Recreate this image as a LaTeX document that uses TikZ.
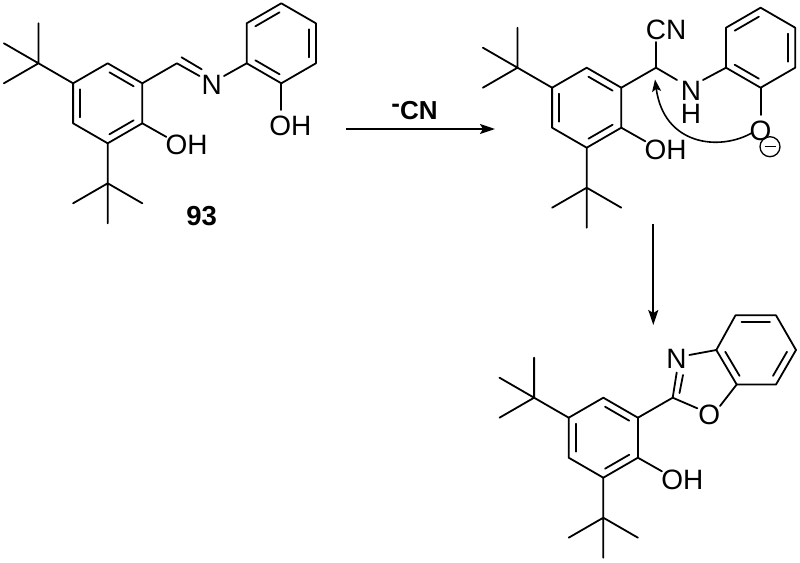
\documentclass[tikz,border=0pt]{standalone}
\usepackage{fontspec}
\setmainfont{Liberation Sans}
\usetikzlibrary{arrows.meta,calc}
\tikzset{
  bond/.style={line width=1.8pt,line cap=round,line join=round,black},
  atom/.style={font=\fontsize{28}{28}\selectfont,inner sep=0pt,text=black},
  lab/.style={font=\fontsize{26}{26}\selectfont\bfseries,inner sep=0pt,text=black},
  rxn/.style={line width=1.8pt,black,-{Stealth[length=15pt,width=10pt,inset=3pt]}},
  curly/.style={line width=1.6pt,black,-{Stealth[length=12pt,width=9pt,inset=2.5pt]}},
  pics/arene/.style={code={
    \coordinate (top) at (0,0);
    \coordinate (c3) at (34.6,20);
    \coordinate (c4) at (34.6,60);
    \coordinate (c5) at (0,80);
    \coordinate (c6) at (-34.6,60);
    \coordinate (c1) at (-34.6,20);
    \coordinate (ctr) at (0,40);
    \coordinate (ta) at (-69.2,0);
    \coordinate (ta1) at (-69.2,-40);
    \coordinate (ta2) at (-103.8,-20);
    \coordinate (ta3) at (-103.8,20);
    \coordinate (tb) at (0,120);
    \coordinate (tb1) at (-34.6,140);
    \coordinate (tb2) at (34.6,140);
    \coordinate (tb3) at (0,160);
    \coordinate (ohend) at (58.6,73.6);
    \node[atom] (oh) at (79,81.7) {OH};
    \draw[bond] (top) -- (c3) -- (c4) -- (c5) -- (c6) -- (c1) -- cycle;
    \draw[bond,shorten >=2pt,shorten <=2pt] ($(ctr)!0.8!(top)$) -- ($(ctr)!0.8!(c3)$);
    \draw[bond,shorten >=2pt,shorten <=2pt] ($(ctr)!0.8!(c4)$) -- ($(ctr)!0.8!(c5)$);
    \draw[bond,shorten >=2pt,shorten <=2pt] ($(ctr)!0.8!(c6)$) -- ($(ctr)!0.8!(c1)$);
    \draw[bond] (c1) -- (ta) (ta) -- (ta1) (ta) -- (ta2) (ta) -- (ta3);
    \draw[bond] (c5) -- (tb) (tb) -- (tb1) (tb) -- (tb2) (tb) -- (tb3);
    \draw[bond] (c4) -- (ohend);
  }}
}
\begin{document}
\begin{tikzpicture}[x=1pt,y=-1pt]
\useasboundingbox (0,0) rectangle (800,562);
\fill[white] (0,0) rectangle (800,562);

% compound 93
\pic (a-) at (107.7,63.3) {arene};
\coordinate (a-ch) at (176.9,63.3);
\coordinate (a-dbe) at (199.5,76);
\coordinate (a-db1) at (181.5,57.3);
\coordinate (a-db2) at (201.7,69.3);
\node[atom] (a-n) at (211.7,84.8) {N};
\coordinate (a-nb) at (224,76);
\coordinate (a-r1) at (246.7,63.3);
\coordinate (a-r2) at (246.7,23.3);
\coordinate (a-r3) at (281.3,3.3);
\coordinate (a-r4) at (315.9,23.3);
\coordinate (a-r5) at (315.9,63.3);
\coordinate (a-r6) at (281.3,83.3);
\coordinate (a-rc) at (281.3,43.3);
\coordinate (a-ob) at (281.3,110);
\node[atom] (a-oh2) at (290.3,126) {OH};
\draw[bond] (a-c3) -- (a-ch) -- (a-dbe);
\draw[bond] (a-db1) -- (a-db2);
\draw[bond] (a-nb) -- (a-r1);
\draw[bond] (a-r1) -- (a-r2) -- (a-r3) -- (a-r4) -- (a-r5) -- (a-r6) -- cycle;
\draw[bond,shorten >=2pt,shorten <=2pt] ($(a-rc)!0.8!(a-r1)$) -- ($(a-rc)!0.8!(a-r6)$);
\draw[bond,shorten >=2pt,shorten <=2pt] ($(a-rc)!0.8!(a-r2)$) -- ($(a-rc)!0.8!(a-r3)$);
\draw[bond,shorten >=2pt,shorten <=2pt] ($(a-rc)!0.8!(a-r4)$) -- ($(a-rc)!0.8!(a-r5)$);
\draw[bond] (a-r6) -- (a-ob);
\node[lab,font=\fontsize{27.5}{27.5}\selectfont\bfseries] (a-num) at (201.7,216) {93};

% first arrow
\coordinate (ar1s) at (346,129);
\coordinate (ar1e) at (495,129);
\draw[rxn] (ar1s) -- (ar1e);
\node[lab] (cn) at (414.5,110.5) {\raisebox{7pt}{-}CN};

% intermediate
\pic (b-) at (586.7,67.7) {arene};
\coordinate (b-ch) at (656,67.7);
\node[atom] (b-cn) at (666,30) {CN};
\coordinate (b-cnb) at (656,42);
\node[atom,align=center,font=\fontsize{28}{22.8}\selectfont] (b-nh) at (691,102) {N\\H};
\coordinate (b-nl) at (677,80);
\coordinate (b-nr) at (703,80);
\coordinate (b-r1) at (726,67.7);
\coordinate (b-r2) at (726,27.7);
\coordinate (b-r3) at (760.6,7.7);
\coordinate (b-r4) at (795.2,27.7);
\coordinate (b-r5) at (795.2,67.7);
\coordinate (b-r6) at (760.6,87.7);
\coordinate (b-rc) at (760.6,47.7);
\coordinate (b-ob) at (760.6,115);
\node[atom] (b-o) at (760.5,130.5) {O};
\node[circle,draw=black,line width=1.3pt,minimum size=20pt,inner sep=0pt] (b-minus) at (770,146.7) {};
\draw[line width=1.4pt,black] ($(b-minus)+(-5.5,0)$) -- ($(b-minus)+(5.5,0)$);
\draw[bond] (b-c3) -- (b-ch) -- (b-nl);
\draw[bond] (b-ch) -- (b-cnb);
\draw[bond] (b-nr) -- (b-r1);
\draw[bond] (b-r1) -- (b-r2) -- (b-r3) -- (b-r4) -- (b-r5) -- (b-r6) -- cycle;
\draw[bond,shorten >=2pt,shorten <=2pt] ($(b-rc)!0.8!(b-r1)$) -- ($(b-rc)!0.8!(b-r6)$);
\draw[bond,shorten >=2pt,shorten <=2pt] ($(b-rc)!0.8!(b-r2)$) -- ($(b-rc)!0.8!(b-r3)$);
\draw[bond,shorten >=2pt,shorten <=2pt] ($(b-rc)!0.8!(b-r4)$) -- ($(b-rc)!0.8!(b-r5)$);
\draw[bond] (b-r6) -- (b-ob);
\coordinate (cv-s) at (751.7,133);
\coordinate (cv-e) at (655,79.5);
\draw[curly] (cv-s) .. controls (720,151) and (664,146) .. (cv-e);

% second arrow
\coordinate (ar2s) at (653.3,224);
\coordinate (ar2e) at (653.3,325);
\draw[rxn] (ar2s) -- (ar2e);

% product
\pic (c-) at (603.3,397.7) {arene};
\coordinate (c-c2) at (672.7,397.7);
\node[atom] (c-n) at (676.5,359.3) {N};
\node[atom] (c-o) at (709.3,415) {O};
\coordinate (c-nb1) at (676.7,372.5);
\coordinate (c-nb2) at (683,375);
\coordinate (c-nb3) at (679.5,393);
\coordinate (c-nr) at (689.3,355);
\coordinate (c-ol) at (697.3,408.3);
\coordinate (c-or) at (720,406);
\coordinate (c-r1) at (716.3,350);
\coordinate (c-r2) at (735.5,315.3);
\coordinate (c-r3) at (776,315.3);
\coordinate (c-r4) at (796,350);
\coordinate (c-r5) at (776,384.5);
\coordinate (c-r6) at (736.7,384.5);
\coordinate (c-rc) at (756,350);
\draw[bond] (c-c3) -- (c-c2) -- (c-nb1);
\draw[bond] (c-nb2) -- (c-nb3);
\draw[bond] (c-c2) -- (c-ol);
\draw[bond] (c-or) -- (c-r6);
\draw[bond] (c-nr) -- (c-r1);
\draw[bond] (c-r1) -- (c-r2) -- (c-r3) -- (c-r4) -- (c-r5) -- (c-r6) -- cycle;
\draw[bond,shorten >=2pt,shorten <=2pt] ($(c-rc)!0.8!(c-r1)$) -- ($(c-rc)!0.8!(c-r6)$);
\draw[bond,shorten >=2pt,shorten <=2pt] ($(c-rc)!0.8!(c-r2)$) -- ($(c-rc)!0.8!(c-r3)$);
\draw[bond,shorten >=2pt,shorten <=2pt] ($(c-rc)!0.8!(c-r4)$) -- ($(c-rc)!0.8!(c-r5)$);
\end{tikzpicture}
\end{document}
